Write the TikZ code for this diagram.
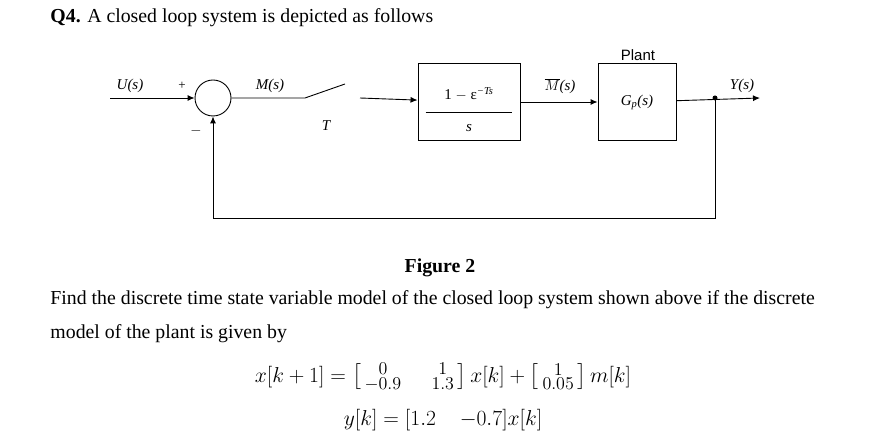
\documentclass[tikz,border=0pt]{standalone}
\usepackage{amsmath}
\usepackage{fontspec}
\setmainfont{Liberation Serif}
\newfontfamily\sfa{Liberation Sans}
\usetikzlibrary{arrows.meta,calc}
\begin{document}
\begin{tikzpicture}[x=1pt,y=-1pt,line width=0.9pt,
  blk/.style={draw,minimum width=78pt,minimum height=77pt},
  sig/.style={-{Latex[length=7pt,width=6pt]}},
  lbl/.style={font=\fontsize{15}{17}\selectfont\itshape},
  body/.style={font=\fontsize{19.8}{22}\selectfont,anchor=west,inner sep=0},
  eqn/.style={font=\fontsize{19}{22}\selectfont,scale=1.25,transform shape}]
\useasboundingbox (0,0) rectangle (873,443);
\node[body] (title) at (50,18) {\textbf{Q4.} A closed loop system is depicted as follows};
\node[draw,circle,minimum size=36pt,inner sep=0] (sum) at (213,98) {};
\coordinate (in) at (110,98);
\node[lbl] (U) at (130,86) {U(s)};
\node[font=\fontsize{13}{15}\selectfont] (plus) at (182,86) {+};
\node[font=\fontsize{14}{15}\selectfont] (minus) at (196,131) {$-$};
\node[lbl] (M) at (270,86) {M(s)};
\coordinate (sw1) at (305,98);
\coordinate (sw2) at (345,84);
\node[lbl] (T) at (326,126) {T};
\coordinate (sw3) at (360,98);
\node[blk,minimum width=102pt] (zoh) at (469,102) {};
\node (num) at (469,94) {\fontsize{15}{17}\selectfont 1 $-$ ε\textsuperscript{\itshape −Ts}};
\draw ($(zoh.west)+(8,10)$) coordinate (fl) -- ($(zoh.east)+(-8,10)$) coordinate (fr);
\node[lbl] (den) at (469,128) {s};
\node[lbl] (Mb) at (560,86) {$\overline{M}$(s)};
\node[blk] (plant) at (637,102) {};
\node[font=\fontsize{15}{17}\selectfont\sfa] (plbl) at (638,55) {Plant};
\node[lbl] (Gp) at (637,102) {G\textsubscript{p}(s)};
\coordinate (dot) at (715,98);
\coordinate (out) at (760,98);
\node[lbl] (Y) at (742,86) {Y(s)};
\coordinate (b1) at (715,218);
\coordinate (b2) at (213,218);
\draw[sig] (in) -- (sum);
\draw (sum) -- (sw1) -- (sw2);
\draw[sig] (sw3) -- (zoh);
\draw[sig] (zoh) -- (plant);
\draw[sig] (plant) -- (out);
\fill (dot) circle (2.5);
\draw[sig] (dot) -- (b1) -- (b2) -- (sum);
\node[font=\fontsize{19.8}{22}\selectfont\bfseries] (fig) at (440,268) {Figure 2};
\node[body] (p1) at (50,300) {Find the discrete time state variable model of the closed loop system shown above if the discrete};
\node[body] (p2) at (50,334) {model of the plant is given by};
\node[eqn] (eq1) at (443,377) {$x[k+1]=\left[\begin{smallmatrix}0&\quad1\\-0.9&\quad1.3\end{smallmatrix}\right]x[k]+\left[\begin{smallmatrix}1\\0.05\end{smallmatrix}\right]m[k]$};
\node[eqn] (eq2) at (443,420) {$y[k]=[1.2\quad {-0.7}]x[k]$};
\end{tikzpicture}
\end{document}
